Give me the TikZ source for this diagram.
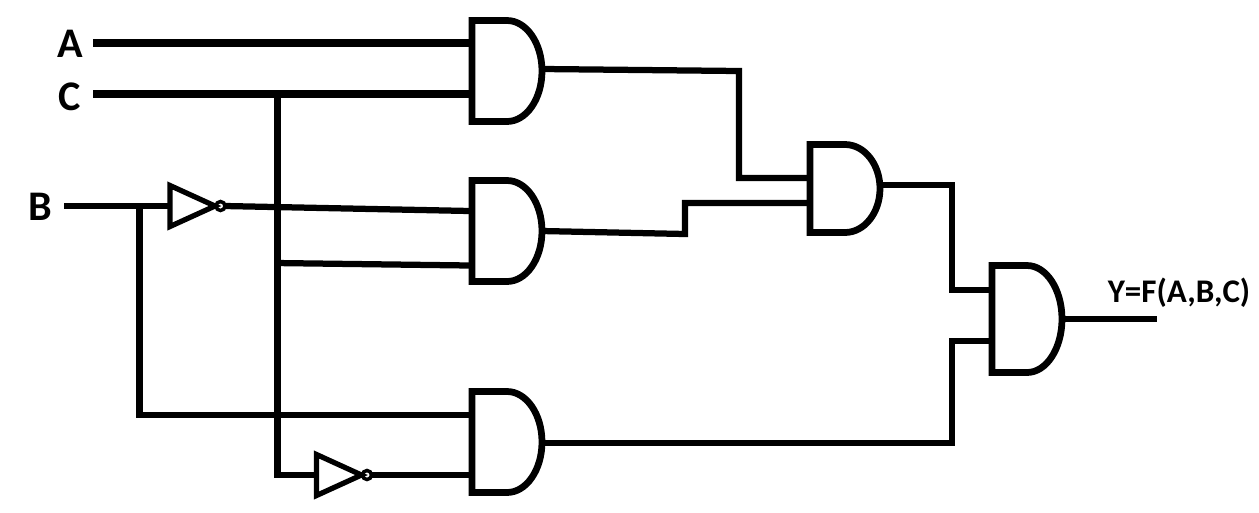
\documentclass[tikz,border=0pt]{standalone}
\usepackage{fontspec}
\setmainfont{Carlito}
\usepackage{tikz}
\tikzstyle{wire} = [line width=1.25mm]
\tikzstyle{bus} = [line width=1.6mm]
\tikzstyle{andgate} = [rectangle,inner sep=0pt,outer sep=0pt,minimum width=1.4cm,minimum height=#1,
	append after command={\pgfextra{\draw[line width=1.35mm,line join=miter]
		(\tikzlastnode.north west) -- (\tikzlastnode.north)
		arc[start angle=90,end angle=-90,x radius=0.7cm,y radius=0.5*#1]
		-- (\tikzlastnode.south west) -- cycle;}}]
\tikzstyle{notgate} = [rectangle,inner sep=0pt,outer sep=0pt,minimum width=1.1cm,minimum height=0.82cm,
	append after command={\pgfextra{\draw[line width=1.05mm]
		(\tikzlastnode.north west) -- ([xshift=-0.2cm]\tikzlastnode.east)
		-- (\tikzlastnode.south west) -- cycle;
		\draw[line width=0.7mm] ([xshift=-0.09cm]\tikzlastnode.east) circle (0.09cm);}}]
\tikzstyle{letter} = [font=\bfseries\fontsize{24}{24}\selectfont,inner sep=0pt]
\begin{document}
\begin{tikzpicture}[x=0.02cm,y=-0.02cm]
	\useasboundingbox (0,0) rectangle (1259,512);
	\node[andgate=2.02cm]   (G1) at (507,71) {};
	\node[andgate=2.02cm]   (G2) at (507,231) {};
	\node[andgate=2.02cm]   (G3) at (507,442) {};
	\node[andgate=1.76cm]   (G4) at (845,188.5) {};
	\node[andgate=2.14cm]   (G5) at (1027,319) {};
	\node[notgate]  (N1) at (197.5,206) {};
	\node[notgate]  (N2) at (344,475) {};
	\node[letter]   (A) at (70,44) {A};
	\node[letter]   (C) at (70,97) {C};
	\node[letter]   (B) at (40,207) {B};
	\node[font=\bfseries\fontsize{18.8}{19}\selectfont,inner sep=0pt] (Y) at (1179,293) {Y=F(A,B,C)};
	\coordinate (Aend) at (93,43);
	\coordinate (Cend) at (93,94);
	\coordinate (Bend) at (64,206);
	\coordinate (Cjoin) at (277.5,94);
	\coordinate (Cmid) at (275,263);
	\coordinate (Clow) at (277.5,475);
	\coordinate (Bjoin) at (139.5,207);
	\coordinate (Blow) at (139.5,415);
	\coordinate (Yend) at (1157,319);
	\coordinate (G1out) at (543,69);
	\coordinate (G1a) at (739,71);
	\coordinate (G1b) at (739,178);
	\coordinate (G2a) at (685,234);
	\coordinate (G2b) at (685,203);
	\coordinate (G2top) at (470,211);
	\coordinate (G2low) at (470,265.5);
	\coordinate (G3a) at (952,443);
	\coordinate (G5b) at (952,341);
	\coordinate (G5a) at (952,290);
	\coordinate (G4a) at (952,185);
	\draw[bus] (Aend) -- (Aend -| G1.west);
	\draw[bus] (Cend) -- (Cend -| G1.west);
	\draw[wire] (Cjoin) -- (Clow) -- (N2.west);
	\draw[wire] (Bend) -- (N1.west);
	\draw[wire] (Bjoin) -- (Blow) -- (Blow -| G3.west);
	\draw[wire] (N1.east) -- (G2top);
	\draw[wire] (Cmid) -- (G2low);
	\draw[wire] (N2.east) -- (N2.east -| G3.west);
	\draw[wire] (G1out) -- (G1a) -- (G1b) -- (G1b -| G4.west);
	\draw[wire] (G2.east) -- (G2a) -- (G2b) -- (G2b -| G4.west);
	\draw[wire] (G3a -| G3.east) -- (G3a) -- (G5b) -- (G5b -| G5.west);
	\draw[wire] (G4a -| G4.east) -- (G4a) -- (G5a) -- (G5a -| G5.west);
	\draw[wire] (G5.east) -- (Yend);
\end{tikzpicture}
\end{document}
